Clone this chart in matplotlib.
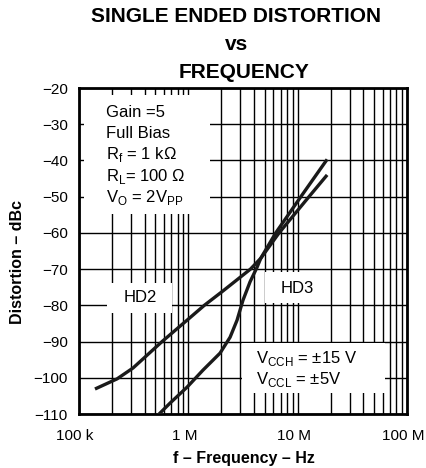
"Single ended distortion vs frequency"

import matplotlib.pyplot as plt
import matplotlib.transforms as mtransforms
from matplotlib.patches import Rectangle
from matplotlib.ticker import FixedLocator, LogLocator, NullFormatter

plt.rcParams["font.family"] = ["Liberation Sans", "DejaVu Sans"]
plt.rcParams["mathtext.fontset"] = "custom"
plt.rcParams["mathtext.rm"] = "Liberation Sans"

#####
# Data
#####

hd2_freq = [140e3, 223e3, 312e3, 575e3, 1.0e6, 1.4e6, 2.08e6, 3.7e6, 4.6e6, 6.76e6, 12.7e6, 18.6e6]
hd2_db = [-103.1, -100.3, -97.3, -90.0, -83.8, -80.0, -76.0, -70.0, -67.0, -60.0, -50.0, -44.0]

hd3_freq = [528e3, 680e3, 973e3, 1.36e6, 1.95e6, 2.41e6, 2.79e6, 3.16e6, 3.67e6, 4.25e6,
            4.6e6, 6.3e6, 10.7e6, 18.6e6]
hd3_db = [-110.3, -107.0, -102.6, -97.9, -93.2, -88.8, -84.1, -78.6, -73.5, -69.5,
          -67.0, -60.0, -50.0, -39.7]

xticks = [1e5, 1e6, 1e7, 1e8]
xticklabels = ["100 k", "1 M", "10 M", "100 M"]
yticks = list(range(-110, -19, 10))
yticklabels = ["\u2212%d" % -v for v in yticks]

conditions = ["Gain =5", "Full Bias", r"R$_\mathregular{f}$ = 1 k$\Omega$",
              r"R$_\mathregular{L}$= 100 $\Omega$", r"V$_\mathregular{O}$ = 2V$_\mathregular{PP}$"]
supplies = [r"V$_\mathregular{CCH}$ = $\pm$15 V", r"V$_\mathregular{CCL}$ = $\pm$5V"]

#####
# Figure
#####

fig = plt.figure(figsize=(4.27, 4.68), dpi=100)
ax = fig.add_axes([79 / 427, 1 - 414 / 468, 328 / 427, 326 / 468])

ax.set_xscale("log")
ax.set_xlim(1e5, 1e8)
ax.set_ylim(-110, -20)

# Full grid on every decade multiple
ax.xaxis.set_major_locator(FixedLocator(xticks))
ax.xaxis.set_minor_locator(LogLocator(base=10, subs=range(2, 10)))
ax.xaxis.set_minor_formatter(NullFormatter())
ax.set_xticklabels(xticklabels)
ax.set_yticks(yticks)
ax.set_yticklabels(yticklabels)
ax.tick_params(which="both", length=0, labelsize=11, pad=8)
ax.tick_params(axis="x", pad=11)
ax.set_axisbelow(True)
ax.grid(True, which="both", axis="x", color="black", linewidth=1.0)
ax.grid(True, which="major", axis="y", color="black", linewidth=1.0)
for spine in ax.spines.values():
    spine.set_linewidth(2)

# x labels sit a little left of their gridlines in the reference
shift = mtransforms.ScaledTranslation(-4 / 100, 0, fig.dpi_scale_trans)
for label in ax.get_xticklabels():
    label.set_transform(label.get_transform() + shift)

# Curves
ax.plot(hd2_freq, hd2_db, color="#1a1a1a", linewidth=2.4, solid_capstyle="butt", zorder=3)
ax.plot(hd3_freq, hd3_db, color="#1a1a1a", linewidth=2.4, solid_capstyle="butt", zorder=3)


def whitebox(x0, y0, x1, y1):
    "Adds a white rectangle (axes fraction) that hides the grid"
    ax.add_patch(Rectangle((x0, y0), x1 - x0, y1 - y0, transform=ax.transAxes,
                           facecolor="white", edgecolor="none", zorder=1))


whitebox(0.015, 0.615, 0.40, 0.978)
for i, line in enumerate(conditions):
    ax.text(0.083, 0.925 - i * 0.065, line, transform=ax.transAxes, fontsize=12,
            va="center", ha="left", zorder=4)

whitebox((107 - 79) / 328, 1 - (313 - 88) / 326, (172 - 79) / 328, 1 - (283 - 88) / 326)
ax.text(3.6e5, -77.9, "HD2", fontsize=12, ha="center", va="center", zorder=4)

whitebox((265 - 79) / 328, 1 - (303 - 88) / 326, (330 - 79) / 328, 1 - (272 - 88) / 326)
ax.text(9.9e6, -75.3, "HD3", fontsize=12, ha="center", va="center", zorder=4)

whitebox((242 - 79) / 328, 1 - (393 - 88) / 326, (385 - 79) / 328, 1 - (343 - 88) / 326)
for i, line in enumerate(supplies):
    ax.text((256 - 79) / 328, 1 - (358 - 88) / 326 - i * 0.065, line, transform=ax.transAxes,
            fontsize=12, va="center", ha="left", zorder=4)

# Titles and labels
fig.text(236 / 427, 1 - 17 / 468, "SINGLE ENDED DISTORTION", ha="center", va="center",
         fontsize=15, fontweight="bold")
fig.text(237 / 427, 1 - 45 / 468, "vs", ha="center", va="center", fontsize=15, fontweight="bold")
fig.text(244 / 427, 1 - 72 / 468, "FREQUENCY", ha="center", va="center", fontsize=15,
         fontweight="bold")
fig.text(244 / 427, 1 - 458 / 468, "f \u2013 Frequency \u2013 Hz", ha="center", va="center",
         fontsize=11.5, fontweight="bold")
fig.text(18 / 427, 1 - 262 / 468, "Distortion \u2013 dBc", ha="center", va="center",
         fontsize=11.5, fontweight="bold", rotation=90)

plt.savefig("out.png", dpi=100)
